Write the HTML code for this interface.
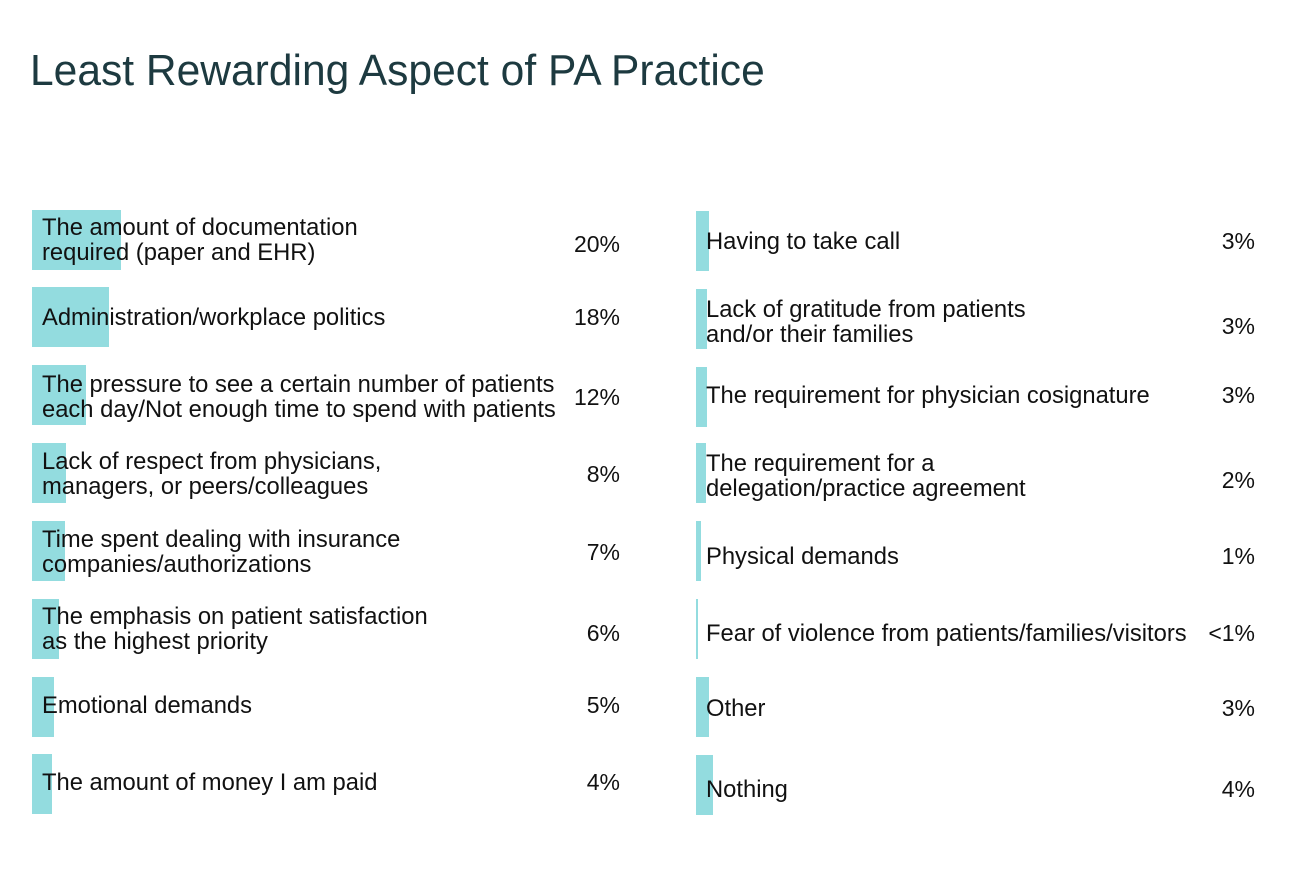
<!DOCTYPE html>
<html><head><style>
body{margin:0;width:1290px;height:878px;background:#fff;position:relative;overflow:hidden;font-family:"Liberation Sans",sans-serif;color:#111}
h1{position:absolute;left:30px;top:46px;margin:0;font-weight:normal;font-size:44px;color:#1d3a40;transform:scaleX(0.967);transform-origin:left;white-space:nowrap}
.bar{position:absolute;height:60px;background:#93dcdf}
.lab{position:absolute;height:60px;display:flex;align-items:center;font-size:24px;line-height:25px;transform:scaleX(0.99);transform-origin:left;white-space:nowrap}
.val{position:absolute;height:60px;display:flex;align-items:center;justify-content:flex-end;font-size:23px;width:80px}
</style></head><body>
<h1>Least Rewarding Aspect of PA Practice</h1>

<div class="bar" style="left:32px;top:210px;width:89px"></div>
<div class="lab" style="left:42px;top:210px">The amount of documentation<br>required (paper and EHR)</div>
<div class="val" style="left:540px;top:214px">20%</div>

<div class="bar" style="left:32px;top:287px;width:77px"></div>
<div class="lab" style="left:42px;top:287px">Administration/workplace politics</div>
<div class="val" style="left:540px;top:287px">18%</div>

<div class="bar" style="left:32px;top:365px;width:54px"></div>
<div class="lab" style="left:42px;top:367px">The pressure to see a certain number of patients<br>each day/Not enough time to spend with patients</div>
<div class="val" style="left:540px;top:367px">12%</div>

<div class="bar" style="left:32px;top:443px;width:34px"></div>
<div class="lab" style="left:42px;top:444px">Lack of respect from physicians,<br>managers, or peers/colleagues</div>
<div class="val" style="left:540px;top:444px">8%</div>

<div class="bar" style="left:32px;top:521px;width:33px"></div>
<div class="lab" style="left:42px;top:522px">Time spent dealing with insurance<br>companies/authorizations</div>
<div class="val" style="left:540px;top:522px">7%</div>

<div class="bar" style="left:32px;top:599px;width:27px"></div>
<div class="lab" style="left:42px;top:599px">The emphasis on patient satisfaction<br>as the highest priority</div>
<div class="val" style="left:540px;top:603px">6%</div>

<div class="bar" style="left:32px;top:677px;width:22px"></div>
<div class="lab" style="left:42px;top:675px">Emotional demands</div>
<div class="val" style="left:540px;top:675px">5%</div>

<div class="bar" style="left:32px;top:754px;width:20px"></div>
<div class="lab" style="left:42px;top:752px">The amount of money I am paid</div>
<div class="val" style="left:540px;top:752px">4%</div>

<div class="bar" style="left:696px;top:211px;width:13px"></div>
<div class="lab" style="left:706px;top:211px">Having to take call</div>
<div class="val" style="left:1175px;top:211px">3%</div>

<div class="bar" style="left:696px;top:289px;width:11px"></div>
<div class="lab" style="left:706px;top:292px">Lack of gratitude from patients<br>and/or their families</div>
<div class="val" style="left:1175px;top:296px">3%</div>

<div class="bar" style="left:696px;top:367px;width:11px"></div>
<div class="lab" style="left:706px;top:365px">The requirement for physician cosignature</div>
<div class="val" style="left:1175px;top:365px">3%</div>

<div class="bar" style="left:696px;top:443px;width:10px"></div>
<div class="lab" style="left:706px;top:446px">The requirement for a<br>delegation/practice agreement</div>
<div class="val" style="left:1175px;top:450px">2%</div>

<div class="bar" style="left:696px;top:521px;width:5px"></div>
<div class="lab" style="left:706px;top:526px">Physical demands</div>
<div class="val" style="left:1175px;top:526px">1%</div>

<div class="bar" style="left:696px;top:599px;width:2px"></div>
<div class="lab" style="left:706px;top:603px">Fear of violence from patients/families/visitors</div>
<div class="val" style="left:1175px;top:603px">&lt;1%</div>

<div class="bar" style="left:696px;top:677px;width:13px"></div>
<div class="lab" style="left:706px;top:678px">Other</div>
<div class="val" style="left:1175px;top:678px">3%</div>

<div class="bar" style="left:696px;top:755px;width:17px"></div>
<div class="lab" style="left:706px;top:759px">Nothing</div>
<div class="val" style="left:1175px;top:759px">4%</div>
</body></html>
